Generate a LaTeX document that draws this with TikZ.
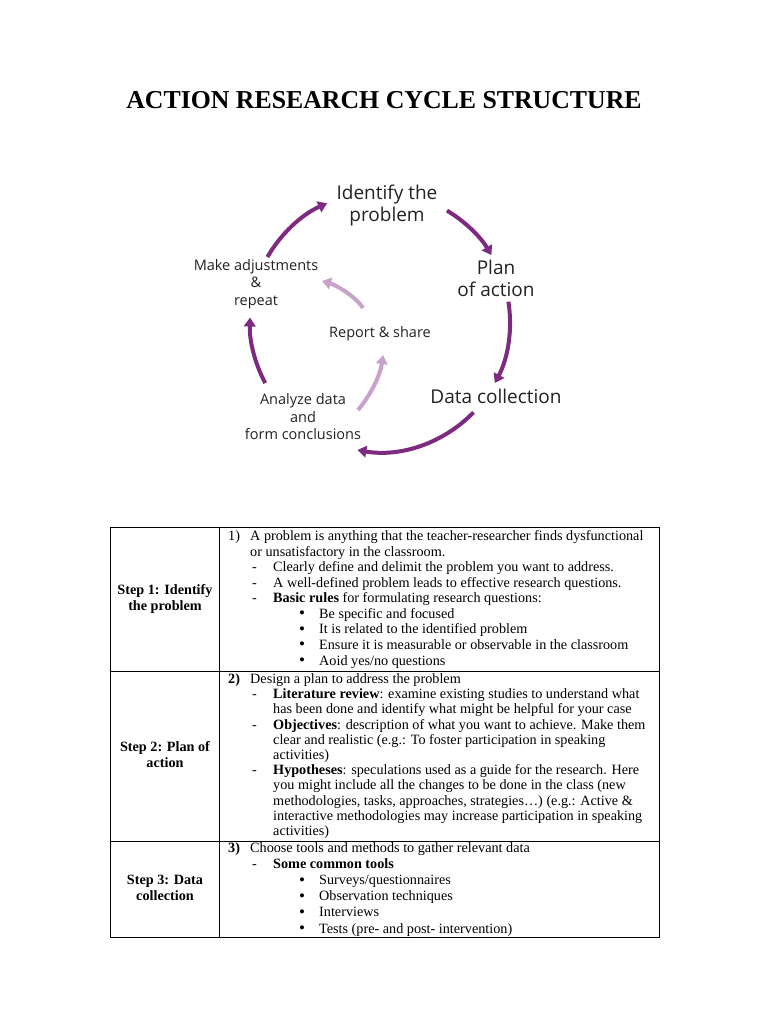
\documentclass[tikz,border=0pt]{standalone}
\usepackage{fontspec}
\setmainfont{Liberation Serif}
\newfontfamily\cyc{Open Sans}
\usetikzlibrary{arrows.meta,calc}
\definecolor{dkpurple}{HTML}{7E2A80}
\definecolor{ltpurple}{HTML}{C9A2CC}
\definecolor{cyctext}{HTML}{222222}
\newcommand\Ln[4]{\node[ln] (#1) at (#2,#3) {#4};}
\newcommand\Bl[3]{\node[bul] (#1) at (#2,#3) {•};}
\begin{document}
\begin{tikzpicture}[x=1pt,y=-1pt,
  ln/.style={anchor=base west, inner sep=0pt, font=\fontsize{14.2}{15.5}\selectfont},
  bul/.style={anchor=base west, inner sep=0pt, font=\fontsize{17}{15.5}\selectfont},
  steplbl/.style={align=center, inner sep=0pt, font=\bfseries\fontsize{14.2}{16}\selectfont},
  bigtxt/.style={align=center, inner sep=0pt, text=cyctext, font=\cyc\fontsize{19}{22}\selectfont},
  smalltxt/.style={align=center, inner sep=0pt, text=cyctext, font=\cyc\fontsize{14.5}{17.5}\selectfont},
  bigarrow/.style={draw=dkpurple, line width=4pt, -{Triangle[length=9pt,width=11.5pt]}},
  ltarrow/.style={draw=ltpurple, line width=4pt, -{Triangle[length=9pt,width=11.5pt]}},
  grid/.style={draw=black, line width=0.9pt}]
\useasboundingbox (0,0) rectangle (768,1024);
\fill[white] (0,0) rectangle (768,1024);

% title
\node[inner sep=0pt, font=\bfseries\fontsize{25.8}{30}\selectfont] (title) at (384,100) {ACTION RESEARCH CYCLE STRUCTURE};

% cycle labels
\node[bigtxt] (ident) at (387,206) {Identify the\\problem};
\node[bigtxt] (plan) at (496,278) {Plan\\of action};
\node[bigtxt] (data) at (496,396) {Data collection};
\node[smalltxt] (make) at (256,284) {Make adjustments\\\&\\repeat};
\node[smalltxt] (report) at (380,334) {Report \& share};
\node[smalltxt] (analyze) at (303,417) {Analyze data\\and\\form conclusions};

% cycle arrows
\coordinate (c) at (380,322);
\coordinate (a1) at ($(c)+(-150:130)$);
\coordinate (a2) at ($(c)+(-59:130)$);
\coordinate (a3) at ($(c)+(-9:130)$);
\coordinate (a4) at ($(c)+(44:130)$);
\coordinate (a5) at ($(c)+(152:130)$);
\draw[bigarrow] (a1) arc[start angle=-150, end angle=-114, radius=130];
\draw[bigarrow] (a2) arc[start angle=-59, end angle=-31, radius=130];
\draw[bigarrow] (a3) arc[start angle=-9, end angle=28, radius=130];
\draw[bigarrow] (a4) arc[start angle=44, end angle=100, radius=130];
\draw[bigarrow] (a5) arc[start angle=152, end angle=182, radius=130];

% inner light arrows
\coordinate (r1s) at (363,308);
\coordinate (r1e) at (322,281);
\coordinate (r2s) at (358,410);
\coordinate (r2e) at (383,355);
\draw[ltarrow] (r1s) .. controls (355,296) and (336,285) .. (r1e);
\draw[ltarrow] (r2s) .. controls (369,397) and (380,377) .. (r2e);

% table
\draw[grid] (110,527) rectangle (659,937);
\draw[grid] (219,527) -- (219,937);
\draw[grid] (110,671) -- (659,671);
\draw[grid] (110,841) -- (659,841);

\node[steplbl] (s1) at (165,599) {Step 1: Identify\\the problem};
\node[steplbl] (s2) at (165,755) {Step 2: Plan of\\action};
\node[steplbl] (s3) at (165,888) {Step 3: Data\\collection};

% row 1
\Ln{n1}{228}{540.5}{1)}
\Ln{t1a}{250}{540.5}{A problem is anything that the teacher-researcher finds dysfunctional}
\Ln{t1b}{250}{556}{or unsatisfactory in the classroom.}
\Ln{d1a}{252}{571.5}{-}
\Ln{t1c}{273}{571.5}{Clearly define and delimit the problem you want to address.}
\Ln{d1b}{252}{587}{-}
\Ln{t1d}{273}{587}{A well-defined problem leads to effective research questions.}
\Ln{d1c}{252}{602.5}{-}
\Ln{t1e}{273}{602.5}{\textbf{Basic rules} for formulating research questions:}
\Bl{b1a}{299}{618.5}
\Ln{t1f}{319}{618}{Be specific and focused}
\Bl{b1b}{299}{634}
\Ln{t1g}{319}{633.5}{It is related to the identified problem}
\Bl{b1c}{299}{649.5}
\Ln{t1h}{319}{649}{Ensure it is measurable or observable in the classroom}
\Bl{b1d}{299}{665.5}
\Ln{t1i}{319}{665}{Aoid yes/no questions}

% row 2
\Ln{n2}{228}{683.5}{\textbf{2)}}
\Ln{t2a}{250}{683.5}{Design a plan to address the problem}
\Ln{d2a}{252}{698.7}{-}
\Ln{t2b}{273}{698.7}{\textbf{Literature review}: examine existing studies to understand what}
\Ln{t2c}{273}{713.9}{has been done and identify what might be helpful for your case}
\Ln{d2b}{252}{729.1}{-}
\Ln{t2d}{273}{729.1}{\textbf{Objectives}: description of what you want to achieve. Make them}
\Ln{t2e}{273}{744.3}{clear and realistic (e.g.: To foster participation in speaking}
\Ln{t2f}{273}{759.5}{activities)}
\Ln{d2c}{252}{774.7}{-}
\Ln{t2g}{273}{774.7}{\textbf{Hypotheses}: speculations used as a guide for the research. Here}
\Ln{t2h}{273}{789.9}{you might include all the changes to be done in the class (new}
\Ln{t2i}{273}{805.1}{methodologies, tasks, approaches, strategies…) (e.g.: Active \&}
\Ln{t2j}{273}{820.3}{interactive methodologies may increase participation in speaking}
\Ln{t2k}{273}{835.5}{activities)}

% row 3
\Ln{n3}{228}{852.5}{\textbf{3)}}
\Ln{t3a}{250}{852.5}{Choose tools and methods to gather relevant data}
\Ln{d3a}{252}{868}{-}
\Ln{t3b}{273}{868}{\textbf{Some common tools}}
\Bl{b3a}{299}{885}
\Ln{t3c}{319}{884.5}{Surveys/questionnaires}
\Bl{b3b}{299}{901}
\Ln{t3d}{319}{900.5}{Observation techniques}
\Bl{b3c}{299}{917}
\Ln{t3e}{319}{916.5}{Interviews}
\Bl{b3d}{299}{933.5}
\Ln{t3f}{319}{933}{Tests (pre- and post- intervention)}
\end{tikzpicture}
\end{document}
